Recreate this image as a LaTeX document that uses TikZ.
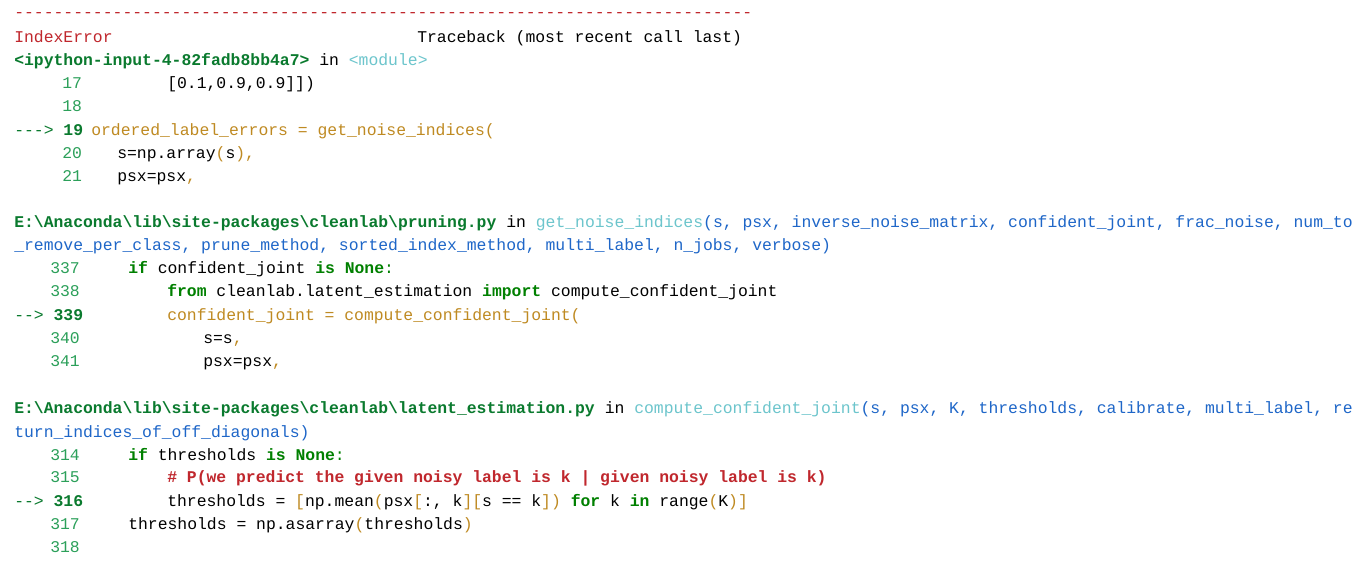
\documentclass[tikz,border=0pt]{standalone}
\usepackage{fontspec}
\setmonofont{Liberation Mono}
\definecolor{cred}{HTML}{C0272D}
\definecolor{cgrn}{HTML}{0A7A2E}
\definecolor{cnum}{HTML}{2CA05A}
\definecolor{corg}{HTML}{BF8A22}
\definecolor{ccya}{HTML}{6CC5CC}
\definecolor{cblu}{HTML}{1E66C8}
\definecolor{ckw}{HTML}{008000}
\newcommand{\G}[1]{\textcolor{cgrn}{\bfseries #1}}
\newcommand{\K}[1]{\textcolor{ckw}{\bfseries #1}}
\newcommand{\Or}[1]{\textcolor{corg}{#1}}
\newcommand{\Cy}[1]{\textcolor{ccya}{#1}}
\newcommand{\Bl}[1]{\textcolor{cblu}{#1}}
\newcommand{\Rd}[1]{\textcolor{cred}{#1}}
\newcommand{\bs}{\textbackslash}
\begin{document}
\begin{tikzpicture}[x=0.75pt,y=-0.75pt,
  t/.style={anchor=base west,inner sep=0pt,font=\ttfamily\fontsize{12.3}{14}\selectfont},
  n/.style={t,text=cnum}]
\useasboundingbox[fill=white] (0,0) rectangle (1372,577);
\newcommand{\T}[4][t]{\node[#1] at (#2,#3+6) {#4};}
\T{14}{12}{\Rd{---------------------------------------------------------------------------}}
\T{14}{37}{\Rd{IndexError}}
\T{417}{37}{Traceback (most recent call last)}
\T{14}{60}{\G{<ipython-input-4-82fadb8bb4a7>} in \Cy{<module>}}
\T[n]{62}{83}{17}
\T{167}{83}{[0.1,0.9,0.9]])}
\T[n]{62}{106}{18}
\T{14}{130}{\textcolor{cgrn}{--->} \G{19}}
\T{91}{130}{\Or{ordered\_label\_errors = get\_noise\_indices(}}
\T[n]{62}{153}{20}
\T{117}{153}{s=np.array\Or{(}s\Or{),}}
\T[n]{62}{176}{21}
\T{117}{176}{psx=psx\Or{,}}
\T{14}{222}{\G{E:\bs Anaconda\bs lib\bs site-packages\bs cleanlab\bs pruning.py} in \Cy{get\_noise\_indices}\Bl{(s, psx, inverse\_noise\_matrix, confident\_joint, frac\_noise, num\_to}}
\T{14}{245}{\Bl{\_remove\_per\_class, prune\_method, sorted\_index\_method, multi\_label, n\_jobs, verbose)}}
\T[n]{50}{268}{337}
\T{128}{268}{\K{if} confident\_joint \K{is} \K{None}\textcolor{ckw}{:}}
\T[n]{50}{291}{338}
\T{167}{291}{\K{from} cleanlab.latent\_estimation \K{import} compute\_confident\_joint}
\T{14}{315}{\textcolor{cgrn}{-->} \G{339}}
\T{167}{315}{\Or{confident\_joint = compute\_confident\_joint(}}
\T[n]{50}{338}{340}
\T{203}{338}{s=s\Or{,}}
\T[n]{50}{361}{341}
\T{203}{361}{psx=psx\Or{,}}
\T{14}{408}{\G{E:\bs Anaconda\bs lib\bs site-packages\bs cleanlab\bs latent\_estimation.py} in \Cy{compute\_confident\_joint}\Bl{(s, psx, K, thresholds, calibrate, multi\_label, re}}
\T{14}{431}{\Bl{turn\_indices\_of\_off\_diagonals)}}
\T[n]{50}{454}{314}
\T{128}{454}{\K{if} thresholds \K{is} \K{None}\textcolor{ckw}{:}}
\T[n]{50}{477}{315}
\T{167}{477}{\Rd{\bfseries \# P(we predict the given noisy label is k | given noisy label is k)}}
\T{14}{500}{\textcolor{cgrn}{-->} \G{316}}
\T{167}{500}{thresholds = \Or{[}np.mean\Or{(}psx\Or{[}:, k\Or{][}s == k\Or{])} \K{for} k \K{in} range\Or{(}K\Or{)]}}
\T[n]{50}{523}{317}
\T{128}{523}{thresholds = np.asarray\Or{(}thresholds\Or{)}}
\T[n]{50}{546}{318}
\end{tikzpicture}
\end{document}
